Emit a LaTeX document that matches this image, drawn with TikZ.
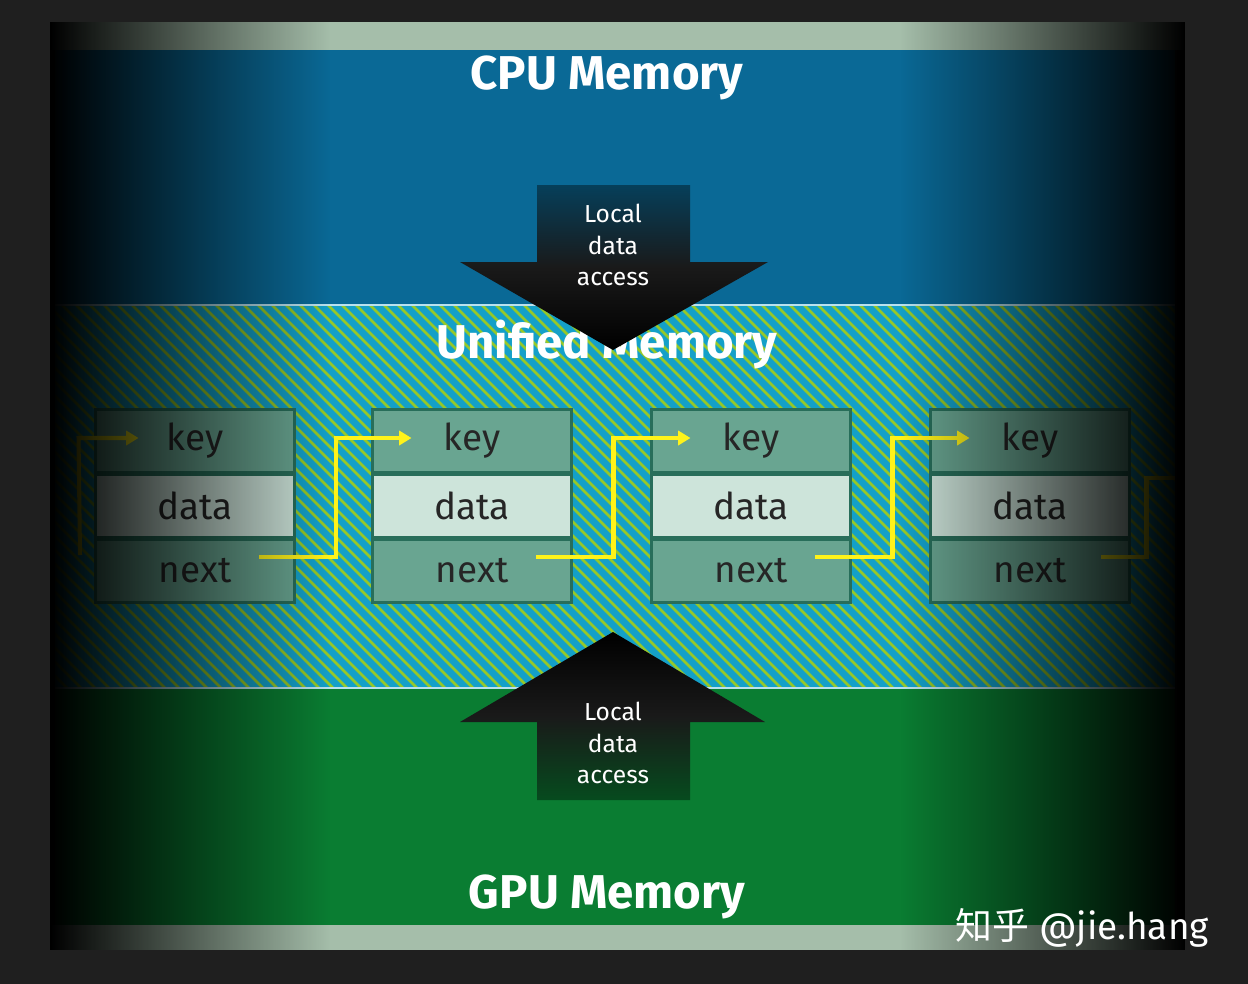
\documentclass[tikz,border=0pt]{standalone}
\usepackage{fontspec}
\setmainfont{Fira Sans}
\newfontfamily\cjk{Noto Sans CJK SC}
\usetikzlibrary{calc,fadings,arrows.meta}

\definecolor{cpublue}{RGB}{10,105,150}
\definecolor{gpugreen}{RGB}{10,125,50}
\definecolor{umcyan}{RGB}{20,160,200}
\definecolor{umstripe}{RGB}{150,200,40}
\definecolor{cellteal}{RGB}{105,165,145}
\definecolor{celllight}{RGB}{205,228,218}
\definecolor{cellline}{RGB}{40,110,90}
\definecolor{barlight}{RGB}{165,190,170}

\tikzfading[name=fade left, left color=transparent!0, right color=transparent!100]
\tikzfading[name=fade right, left color=transparent!100, right color=transparent!0]

\tikzset{
  cell/.style={draw=cellline, line width=1.7pt, fill=cellteal, minimum width=4cm,
    minimum height=1.26cm, inner sep=0pt, font=\fontsize{21}{21}\selectfont, text=black!85},
  light/.style={cell, fill=celllight},
  link/.style={draw=yellow!90!white, line width=2.3pt, -{Triangle[length=7pt,width=8pt]}},
  title/.style={font=\bfseries\fontsize{27}{27}\selectfont, text=white},
  access/.style={font=\fontsize{14}{18}\selectfont, text=white, align=center}
}

\begin{document}
\begin{tikzpicture}[x=0.02cm, y=-0.02cm]
\useasboundingbox (0,0) rectangle (1248,984);
\fill[black!88] (0,0) rectangle (1248,984);

% Bars
\fill[barlight] (50,22) rectangle (1185,50);
\fill[barlight] (50,925) rectangle (1185,950);

% Regions
\fill[cpublue] (55,50) rectangle (1175,305);
\fill[umcyan] (55,305) rectangle (1175,688);
\begin{scope}
  \clip (55,305) rectangle (1175,688);
  \foreach \s in {-400,-386,...,1180}
    \draw[umstripe, line width=1.6pt] (\s,305) -- ++(383,383);
\end{scope}
\fill[gpugreen] (55,688) rectangle (1175,925);
\draw[white!70!umcyan, line width=0.85pt] (55,305) -- (1175,305) (55,688) -- (1175,688);

% Linked list
\foreach \i/\x in {1/195,2/472,3/751,4/1030}{
  \node[cell]  (k\i) at (\x,441) {key};
  \node[light] (d\i) at (\x,506) {data};
  \node[cell]  (n\i) at (\x,571) {next};
}
\foreach \a/\b in {1/2,2/3,3/4}
  \draw[link] ($(n\a.east)+(-37,-14)$) -- ($(n\a.east)+(40,-14)$)
    -- ($(n\a.east)+(40,-133)$) -- ($(k\b.west)+(41,-3)$);
\coordinate (in) at (80,555);
\coordinate (out) at (1175,478);
\draw[link] (in) -- ($(k1.west)+(-15,-3)$) -- ($(k1.west)+(45,-3)$);
\draw[link, -] ($(n4.east)+(-30,-14)$) -- ($(n4.east)+(15,-14)$) |- (out);

% Side darkening
\fill[black, path fading=fade left] (50,22) rectangle (330,950);
\fill[black, path fading=fade right] (900,22) rectangle (1185,950);

% Titles
\node[title] (cpu) at (607,78) {CPU Memory};
\node[title] (um) at (607,345) {Unified Memory};
\node[title] (gpu) at (607,897) {GPU Memory};

% Access arrows
\shade[top color=cpublue!60!black, bottom color=black, middle color=black!90]
  (537,185) -- (690,185) -- (690,262) -- (768,262) -- (613,350)
  -- (460,262) -- (537,262) -- cycle;
\shade[bottom color=gpugreen!60!black, top color=black, middle color=black!90]
  (537,800) -- (690,800) -- (690,722) -- (765,722) -- (613,632)
  -- (460,722) -- (537,722) -- cycle;
\node[access] (down) at (613,245) {Local\\data\\access};
\node[access] (up) at (613,743) {Local\\data\\access};

% Watermark
\node[text=white, font=\fontsize{21}{21}\selectfont, anchor=east] (wm) at (1215,928)
  {{\cjk 知乎} @jie.hang};
\end{tikzpicture}
\end{document}
